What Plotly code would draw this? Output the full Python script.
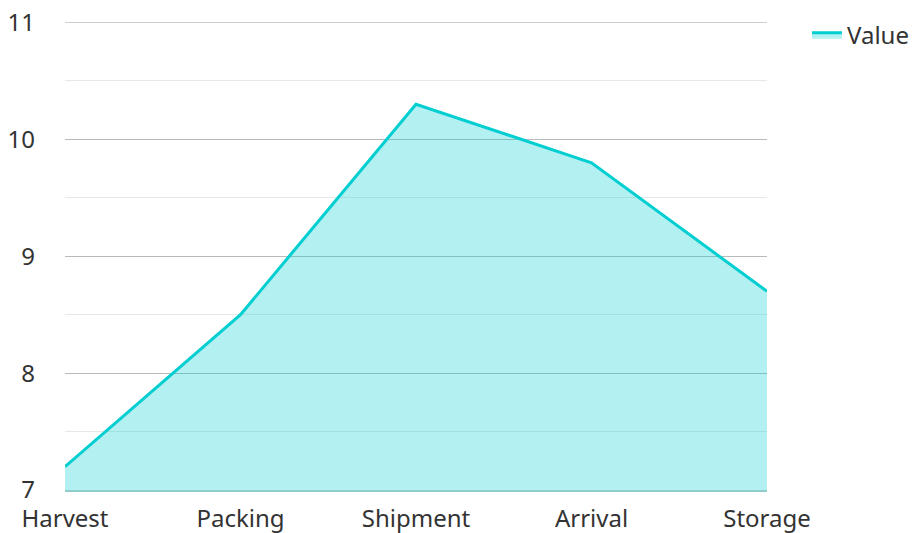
import plotly.graph_objects as go

categories = ["Harvest", "Packing", "Shipment", "Arrival", "Storage"]
values = [7.2, 8.5, 10.3, 9.8, 8.7]
y_ticks = [7, 8, 9, 10, 11]

fig = go.Figure()
fig.add_trace(go.Scatter(
    x=categories, y=values, name="Value", mode="lines",
    line=dict(color="#00CED1", width=3),
    fill="tozeroy", fillcolor="rgba(0,206,209,0.3)",
))

# top gridline (drawn explicitly since it coincides with the plot edge)
fig.add_hline(y=y_ticks[-1], line=dict(color="rgba(0,0,0,0.2)", width=1), layer="below")

fig.update_layout(
    width=916, height=533,
    margin=dict(l=65, r=149, t=22, b=43, autoexpand=False),
    paper_bgcolor="white", plot_bgcolor="white",
    font=dict(family="Noto Sans", size=24, color="#333333"),
    showlegend=True,
    legend=dict(x=1.057, y=1.02, xanchor="left", yanchor="top",
                font=dict(size=24), bgcolor="rgba(0,0,0,0)"),
    xaxis=dict(type="category", range=[0, 4], showgrid=False, zeroline=False,
               showline=True, linecolor="#8fcccc", linewidth=2,
               ticks="", ticklabelstandoff=6, automargin=False),
    yaxis=dict(range=[7, 11.004], tickvals=y_ticks, showgrid=True,
               gridcolor="rgba(0,0,0,0.2)", gridwidth=1, zeroline=False,
               showline=False, ticks="", ticklabelstandoff=29, automargin=False,
               minor=dict(dtick=0.5, showgrid=True, gridcolor="rgba(0,0,0,0.09)", gridwidth=1)),
)

fig.write_html("out.html", config={"displayModeBar": False},
               post_script="document.body.style.margin='0';document.body.style.overflow='hidden';")
